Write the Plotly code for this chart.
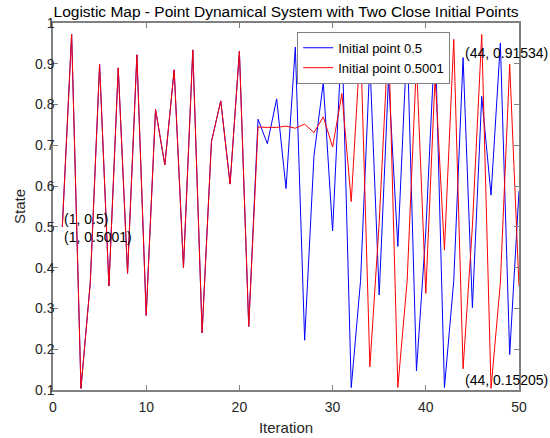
import plotly.graph_objects as go

iterations = list(range(1, 51))

state_init_05 = [
    0.500, 0.9725, 0.104, 0.363, 0.899, 0.355, 0.890, 0.386, 0.922, 0.283,
    0.788, 0.652, 0.885, 0.400, 0.934, 0.240, 0.709, 0.809, 0.605, 0.931,
    0.256, 0.764, 0.704, 0.814, 0.594, 0.941, 0.222, 0.674, 0.854, 0.490,
    0.972, 0.106, 0.368, 0.906, 0.333, 0.866, 0.452, 0.963, 0.147, 0.488,
    0.972, 0.106, 0.368, 0.91534, 0.302, 0.820, 0.578, 0.951, 0.187, 0.588,
]

state_init_05001 = [
    0.5001, 0.9725, 0.104, 0.363, 0.899, 0.355, 0.890, 0.386, 0.922, 0.283,
    0.788, 0.652, 0.885, 0.400, 0.934, 0.240, 0.709, 0.809, 0.605, 0.931,
    0.256, 0.745, 0.744, 0.744, 0.747, 0.742, 0.752, 0.731, 0.770, 0.696,
    0.827, 0.562, 0.957, 0.157, 0.511, 0.972, 0.106, 0.368, 0.905, 0.337,
    0.870, 0.443, 0.960, 0.15205, 0.502, 0.972, 0.104, 0.363, 0.899, 0.354,
]

series_names = ["Initial point 0.5", "Initial point 0.5001"]
x_ticks = [0, 10, 20, 30, 40, 50]
y_ticks = [0.1, 0.2, 0.3, 0.4, 0.5, 0.6, 0.7, 0.8, 0.9, 1.0]
y_tick_labels = ["0.1", "0.2", "0.3", "0.4", "0.5", "0.6", "0.7", "0.8", "0.9", "1"]

FONT = "Liberation Sans, Arial, Helvetica, sans-serif"
AXIS_GRAY = "#808080"
TEXT_DARK = "#262626"

fig = go.Figure()
fig.add_trace(go.Scatter(
    x=iterations, y=state_init_05, mode="lines", name=series_names[0],
    line=dict(color="#0000ff", width=1),
))
fig.add_trace(go.Scatter(
    x=iterations, y=state_init_05001, mode="lines", name=series_names[1],
    line=dict(color="#ff0000", width=1),
))

ann_font = dict(family=FONT, size=14, color="black")
fig.add_annotation(x=iterations[0], y=state_init_05[0], text=f"({iterations[0]}, {state_init_05[0]:g})",
                   xanchor="left", yanchor="middle", showarrow=False, yshift=8, font=ann_font)
fig.add_annotation(x=iterations[0], y=state_init_05001[0], text=f"({iterations[0]}, {state_init_05001[0]:g})",
                   xanchor="left", yanchor="middle", showarrow=False, yshift=-10, font=ann_font)
fig.add_annotation(x=iterations[43], y=state_init_05[43], text=f"({iterations[43]}, {state_init_05[43]:g})",
                   xanchor="left", yanchor="middle", showarrow=False, yshift=5, font=ann_font)
fig.add_annotation(x=iterations[43], y=state_init_05001[43], text=f"({iterations[43]}, {state_init_05001[43]:g})",
                   xanchor="left", yanchor="middle", showarrow=False, yshift=-11, font=ann_font)

axis_common = dict(
    showline=True, linecolor=AXIS_GRAY, linewidth=1.5, mirror="ticks",
    ticks="inside", ticklen=5, tickcolor=AXIS_GRAY, tickwidth=1,
    showgrid=False, zeroline=False, automargin=False,
    tickfont=dict(family=FONT, size=14, color=TEXT_DARK),
)

fig.update_layout(
    width=550, height=438,
    margin=dict(l=53, r=31, t=23, b=48, autoexpand=False),
    paper_bgcolor="white", plot_bgcolor="white",
    title=dict(text="Logistic Map - Point Dynamical System with Two Close Initial Points",
               x=0.52, xanchor="center", xref="container", y=0.9737, yanchor="middle",
               font=dict(family=FONT, size=15.5, color="black"), automargin=False),
    xaxis=dict(range=[0, 50], tickvals=x_ticks, ticklabelstandoff=3,
               title=dict(text="Iteration", font=dict(family=FONT, size=15, color=TEXT_DARK), standoff=9),
               **axis_common),
    yaxis=dict(range=[0.1, 1], tickvals=y_ticks, ticktext=y_tick_labels,
               ticklabelstandoff=-6,
               title=dict(text="State", font=dict(family=FONT, size=15, color=TEXT_DARK), standoff=6),
               **axis_common),
    legend=dict(x=0.524, y=0.976, xanchor="left", yanchor="top",
                bgcolor="white", bordercolor=AXIS_GRAY, borderwidth=1,
                font=dict(family=FONT, size=13, color="black"),
                tracegroupgap=0, itemwidth=30),
    showlegend=True,
)

fig.write_html("out.html", config={"displayModeBar": False},
               post_script="document.body.style.margin='0';")
